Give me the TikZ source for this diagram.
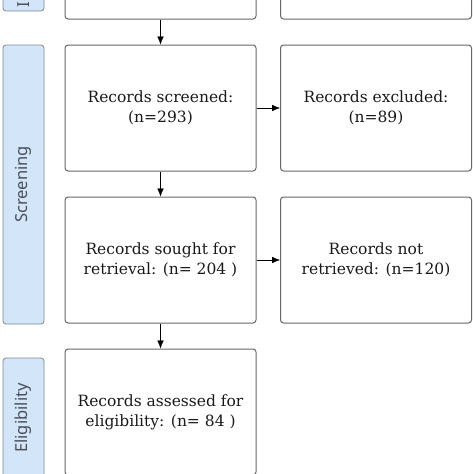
\documentclass[tikz,border=0pt]{standalone}
\usepackage{fontspec}
\setmainfont{DejaVu Serif}
\newfontfamily\sidefont{Noto Sans}
\usetikzlibrary{arrows.meta}
\definecolor{sideblue}{HTML}{D3E5F8}
\definecolor{sideline}{HTML}{7D8896}
\definecolor{boxline}{HTML}{666666}
\definecolor{sidetext}{HTML}{4A4F5A}
\begin{document}
\begin{tikzpicture}[x=1pt, y=-1pt, font=\fontsize{15.5}{20}\selectfont, line join=round, >={Latex[length=8pt,width=6.5pt]},
		box/.style={draw=boxline, line width=1pt, rounded corners=3pt, minimum width=191pt, minimum height=126pt, align=center, text=black!90},
		side/.style={draw=sideline, fill=sideblue, line width=0.8pt, rounded corners=3pt, rotate=90, minimum height=41pt, font=\sidefont\fontsize{16.5}{18}\selectfont, text=sidetext}]
			\useasboundingbox (0,0) rectangle (474,474);
			\clip (0,0) rectangle (474,474);
			% phase labels
			\node [side, minimum width=110pt] (ident) at (23.5,-44) {Identification};
			\node [side, minimum width=279pt] (screen) at (23.5,184.5) {Screening};
			\node [side, minimum width=120pt] (elig) at (23.5,418) {Eligibility};
			% boxes
			\node [box] (idtop) at (160.5,-44) {};
			\node [box] (idright) at (376,-44) {};
			\node [box] (screened) at (160.5,108) {Records screened:\\(n=293)};
			\node [box] (excluded) at (376,108) {Records excluded:\\(n=89)};
			\node [box] (sought) at (160.5,260) {Records sought for\\retrieval: (n= 204 )};
			\node [box] (notretr) at (376,260) {Records not\\retrieved: (n=120)};
			\node [box] (assessed) at (160.5,412) {Records assessed for\\eligibility: (n= 84 )};
			% arrows
			\draw [->] (idtop)--(screened);
			\draw [->] (screened)--(excluded);
			\draw [->] (screened)--(sought);
			\draw [->] (sought)--(notretr);
			\draw [->] (sought)--(assessed);
		\end{tikzpicture}
\end{document}
